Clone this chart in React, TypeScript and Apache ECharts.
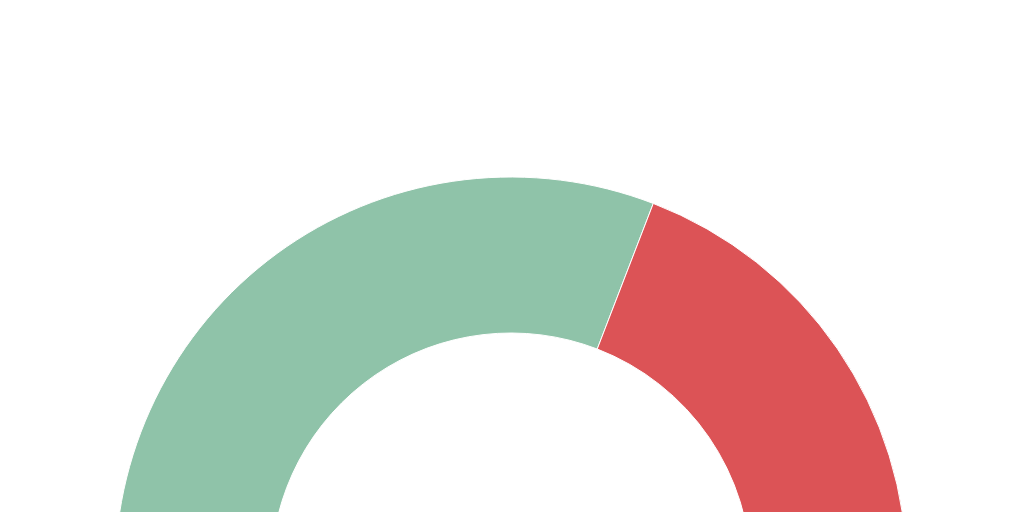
import React, { useEffect, useRef } from "react";
import * as echarts from "echarts";

const categories = ["A", "B"];
const values = [61.7, 38.3];
const colors = ["#8fc3a9", "#dc5356"];

export default function App() {
  const ref = useRef<HTMLDivElement>(null);
  useEffect(() => {
    if (!ref.current) return;
    const chart = echarts.init(ref.current, undefined, { renderer: "svg" });
    chart.setOption({
      animation: false,
      series: [
        {
          type: "pie",
          center: [511, 573],
          radius: [240, 396],
          startAngle: 180,
          endAngle: 360,
          clockwise: true,
          label: { show: false },
          labelLine: { show: false },
          itemStyle: { borderColor: "#ffffff", borderWidth: 1 },
          data: categories.map((c, i) => ({
            name: c,
            value: values[i],
            itemStyle: { color: colors[i] },
          })),
        },
      ],
    });
    return () => chart.dispose();
  }, []);
  return (
    <div
      ref={ref}
      style={{ position: "fixed", left: 0, top: 0, width: 1024, height: 512, background: "#fff" }}
    />
  );
}
